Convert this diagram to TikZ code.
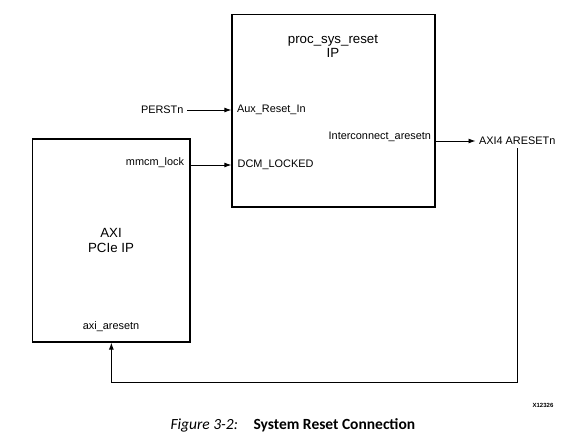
\documentclass[tikz,border=0pt]{standalone}
\usepackage{fontspec}
\usetikzlibrary{arrows.meta}
\setmainfont{Liberation Sans}
\newfontfamily\capfont{Carlito}
\begin{document}
\begin{tikzpicture}[x=1pt,y=-1pt,
	box/.style={draw=black,line width=1.3pt,minimum width=#1},
	sig/.style={color=black,-{Latex[length=7pt,width=5pt]},line width=0.9pt},
	lbl/.style={font=\fontsize{10.9}{12}\selectfont},
	ttl/.style={font=\fontsize{13.3}{14.5}\selectfont,align=center},
	captext/.style={font=\capfont\fontsize{15.5}{17}\selectfont,anchor=west}]
	\useasboundingbox (0,0) rectangle (563,435);
	\node[box=203pt,minimum height=192.3pt] (procbox) at (333.5,110.85) {};
	\node[box=157.3pt,minimum height=203pt] (axibox) at (111.35,240.5) {};
	\node[ttl] (proctitle) at (333,46) {proc\_sys\_reset\\IP};
	\node[ttl] (axititle) at (111,240.5) {AXI\\PCIe IP};
	\node[lbl,anchor=east] (perst) at (187,110) {PERSTn};
	\node[lbl,anchor=west] (aux) at (233.6,110) {Aux\_Reset\_In};
	\node[lbl,anchor=east] (mmcm) at (187.6,163) {mmcm\_lock};
	\node[lbl,anchor=west] (dcm) at (234.2,165) {DCM\_LOCKED};
	\node[lbl,anchor=east] (intc) at (434.6,137) {Interconnect\_aresetn};
	\node[lbl,anchor=west] (axiarst) at (475.5,141) {AXI4 ARESETn};
	\node[lbl] (axirst) at (111,327) {axi\_aresetn};
	\draw[sig] (perst) -- (perst -| procbox.west);
	\draw[sig] (axibox.east |- dcm) -- (procbox.west |- dcm);
	\draw[sig] (procbox.east |- axiarst) -- (axiarst.west);
	\draw[sig] (axiarst.south) |- ([yshift=-40pt]axibox.south) -- (axibox.south);
	\node[font=\fontsize{6}{7}\selectfont\bfseries] (figid) at (543,405) {X12326};
	\node[captext] (figlbl) at (167,425) {\itshape Figure 3-2:};
	\node[captext] (figttl) at (250,425) {\bfseries System Reset Connection};
\end{tikzpicture}
\end{document}
